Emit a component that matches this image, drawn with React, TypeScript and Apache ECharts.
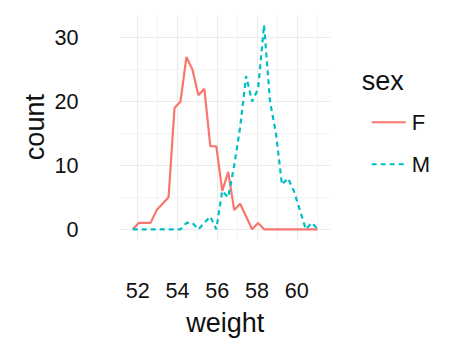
import React, { useEffect, useRef } from 'react';
import * as echarts from 'echarts';

// Frequency polygon bin centres (weight) and counts per sex
const weightBins = [
  51.75, 52.05, 52.35, 52.65, 52.95, 53.25, 53.55, 53.85, 54.15, 54.45, 54.75,
  55.05, 55.35, 55.65, 55.95, 56.25, 56.55, 56.85, 57.15, 57.45, 57.75, 58.05,
  58.35, 58.65, 58.95, 59.25, 59.55, 59.85, 60.15, 60.45, 60.75, 61.05,
];
const countF = [
  0, 1, 1, 1, 3, 4, 5, 19, 20, 27, 25, 21, 22, 13, 13, 6, 9, 3, 4, 2, 0, 1,
  0, 0, 0, 0, 0, 0, 0, 0, 0, 0,
];
const countM = [
  0, 0, 0, 0, 0, 0, 0, 0, 0, 1, 1, 0, 1, 2, 0, 6, 5, 10, 16, 24, 20, 22,
  32, 20, 15, 7, 8, 6, 3, 0, 1, 0,
];
const sexLevels = ['F', 'M'];
const sexColors = ['#F8766D', '#00BFC4'];
const xTickLabels = [52, 54, 56, 58, 60];
const yTickLabels = [0, 10, 20, 30];

const FONT = '"Liberation Sans", Arial, Helvetica, sans-serif';
const TEXT = '#111111';
const GRID_MAJOR = '#EBEBEB';
const GRID_MINOR = '#F0F0F0';

const pick = (list: number[]) => (v: number) => {
  const r = Math.round(v * 1000) / 1000;
  return list.includes(r) ? String(r) : '';
};

export default function App() {
  const ref = useRef<HTMLDivElement>(null);

  useEffect(() => {
    const chart = echarts.init(ref.current!, null, { renderer: 'svg' });
    const xMin = 51.12;
    const xMax = 61.68;
    const yMin = -1.6;
    const yMax = 33.6;

    const series = sexLevels.map((s, k) => ({
      name: s,
      type: 'line',
      data: weightBins.map((w, i) => [w, (k === 0 ? countF : countM)[i]]),
      symbol: 'none',
      showSymbol: false,
      clip: false,
      lineStyle: {
        color: sexColors[k],
        width: 2.2,
        type: k === 0 ? 'solid' : [5, 4],
      },
      itemStyle: { color: sexColors[k] },
    }));

    chart.setOption({
      animation: false,
      textStyle: { fontFamily: FONT },
      grid: { left: 120.2, right: 474 - 330.3, top: 14.7, bottom: 351 - 239.5, containLabel: false },
      xAxis: {
        type: 'value',
        min: xMin,
        max: xMax,
        splitNumber: 5,
        name: 'weight',
        nameLocation: 'middle',
        nameGap: 70,
        nameTextStyle: { fontSize: 27, color: TEXT, fontFamily: FONT },
        axisLine: { show: false },
        axisTick: { show: false },
        axisLabel: {
          margin: 40,
          fontSize: 21.6,
          color: TEXT,
          fontFamily: FONT,
          formatter: pick(xTickLabels),
        },
        minorTick: { show: false, splitNumber: 2 },
        splitLine: { show: true, showMinLine: false, showMaxLine: false, lineStyle: { color: GRID_MAJOR, width: 1.1 } },
        minorSplitLine: { show: true, lineStyle: { color: GRID_MINOR, width: 0.7 } },
      },
      yAxis: {
        type: 'value',
        min: yMin,
        max: yMax,
        splitNumber: 4,
        name: 'count',
        nameLocation: 'middle',
        nameGap: 72,
        nameTextStyle: { fontSize: 27, color: TEXT, fontFamily: FONT },
        axisLine: { show: false },
        axisTick: { show: false },
        axisLabel: {
          margin: 41.7,
          fontSize: 21.6,
          color: TEXT,
          fontFamily: FONT,
          formatter: pick(yTickLabels),
        },
        minorTick: { show: false, splitNumber: 2 },
        splitLine: { show: true, showMinLine: false, showMaxLine: false, lineStyle: { color: GRID_MAJOR, width: 1.1 } },
        minorSplitLine: { show: true, lineStyle: { color: GRID_MINOR, width: 0.7 } },
      },
      legend: {
        data: sexLevels,
        orient: 'vertical',
        left: 365.7,
        top: 106.2,
        itemWidth: 34,
        itemHeight: 22,
        itemGap: 20,
        itemStyle: { opacity: 0 },
        textStyle: { fontSize: 22, color: TEXT, fontFamily: FONT, padding: [0, 0, 0, 1], lineHeight: 22 },
      },
      graphic: [
        {
          type: 'text',
          left: 361.7,
          top: 67,
          style: { text: 'sex', fontSize: 27, fill: TEXT, fontFamily: FONT },
        },
      ],
      series,
    });

    return () => chart.dispose();
  }, []);

  return (
    <div
      ref={ref}
      style={{ position: 'fixed', left: 0, top: 0, width: 474, height: 351, background: '#fff' }}
    />
  );
}
